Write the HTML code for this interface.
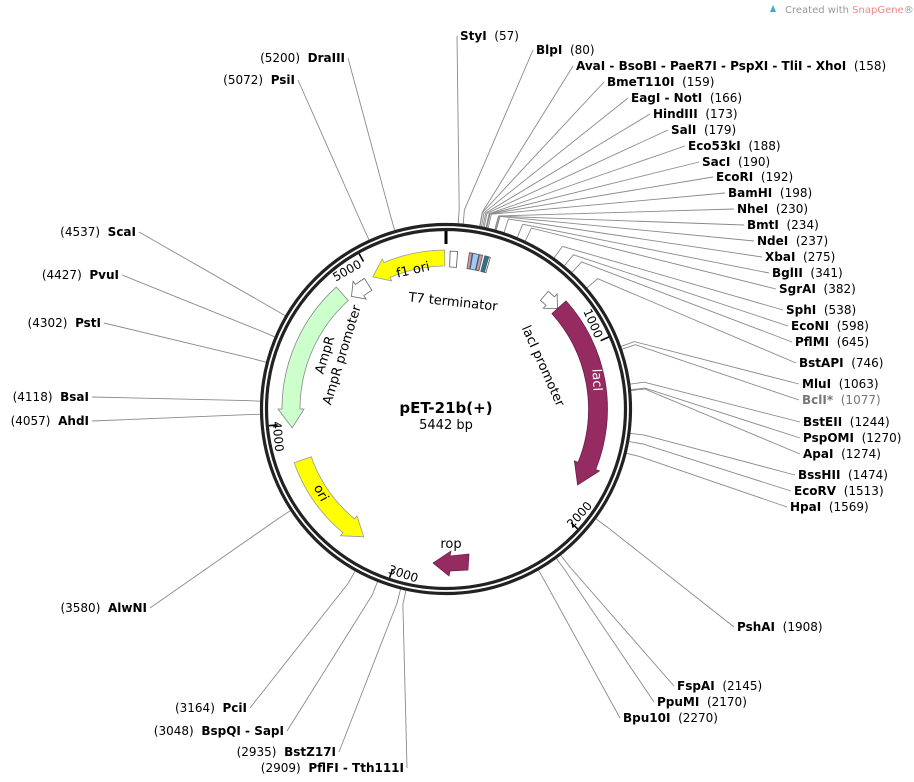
<!DOCTYPE html>
<html><head><meta charset="utf-8"><style>
body{margin:0;background:#fff;}
svg{display:block;font-family:"DejaVu Sans","Liberation Sans",sans-serif;}
</style></head><body>
<svg id="s" width="914" height="782" xmlns="http://www.w3.org/2000/svg">
<rect width="914" height="782" fill="#fff"/>
<text x="785" y="13" font-size="10" fill="#999">Created with <tspan fill="#e88">SnapGene</tspan>®</text>
<path d="M770 12 l3 -7 l3 7 z" fill="#4ac"/>
<g id="lines" stroke="#8a8a8a" stroke-width="0.9" fill="none"></g>
<circle cx="446" cy="409" r="184.5" fill="none" stroke="#222" stroke-width="3.2"/>
<circle cx="446" cy="409" r="179.5" fill="none" stroke="#222" stroke-width="3.2"/>
<g id="feat"></g>
<g id="lab" font-size="12"></g>
<text x="446" y="413" font-size="15" font-weight="bold" text-anchor="middle">pET-21b(+)</text>
<text x="446" y="429" font-size="13" text-anchor="middle">5442 bp</text>
<text x="451" y="548" font-size="13" text-anchor="middle">rop</text>
<polygon points="433,563 451,551 450,556 469,554 468,570 450,571 449,576" fill="#952b60" stroke="#6b1e45" stroke-width="0.7"/>
<text x="413" y="274" font-size="13" text-anchor="middle" transform="rotate(-13 413 270)">f1 ori</text>
<text x="453" y="306" font-size="13" text-anchor="middle" transform="rotate(6 453 302)">T7 terminator</text>
<text x="543" y="370" font-size="13" text-anchor="middle" transform="rotate(66 543 366)">lacI promoter</text>
<text x="597" y="384" font-size="13" fill="#fff" text-anchor="middle" transform="rotate(87 597 380)">lacI</text>
<text x="325" y="359" font-size="13" text-anchor="middle" transform="rotate(-73 325 355)">AmpR</text>
<text x="342" y="359" font-size="13" text-anchor="middle" transform="rotate(-73 342 355)">AmpR promoter</text>
<text x="321" y="497" font-size="13" text-anchor="middle" transform="rotate(62 321 493)">ori</text>
</svg>
<script>
var cx=446,cy=409,NS="http://www.w3.org/2000/svg";
function pt(a,r){var t=a*Math.PI/180;return [cx+r*Math.sin(t),cy-r*Math.cos(t)];}
function P(p){return p[0].toFixed(1)+" "+p[1].toFixed(1);}
function el(g,tag,at,txt){var e=document.createElementNS(NS,tag);for(var k in at)e.setAttribute(k,at[k]);if(txt!=null)e.textContent=txt;document.getElementById(g).appendChild(e);return e;}
function arrow(s,e,r,w,fill,stroke,head){
 var dir=e>s?1:-1,sw=dir>0?1:0,h=head||6;var ah=e-dir*h;
 var ro=r+w/2,ri=r-w/2;
 var d="M"+P(pt(s,ro))+" A"+ro+" "+ro+" 0 0 "+sw+" "+P(pt(ah,ro))+" L"+P(pt(ah,ro+4))+" L"+P(pt(e,r))+" L"+P(pt(ah,ri-4))+" L"+P(pt(ah,ri))+" A"+ri+" "+ri+" 0 0 "+(1-sw)+" "+P(pt(s,ri))+" Z";
 el("feat","path",{d:d,fill:fill,stroke:stroke,"stroke-width":0.8});
}
function box(s,e,r,w,fill){
 var ro=r+w/2,ri=r-w/2;
 var d="M"+P(pt(s,ro))+" A"+ro+" "+ro+" 0 0 1 "+P(pt(e,ro))+" L"+P(pt(e,ri))+" A"+ri+" "+ri+" 0 0 0 "+P(pt(s,ri))+" Z";
 el("feat","path",{d:d,fill:fill,stroke:"#555","stroke-width":0.8});
}
arrow(359.5,331,151,16,"#ffff00","#999",6);
arrow(328,320,147,14,"#fff","#666",4);
arrow(318,263,155,18,"#ccffcc","#888",7);
arrow(250.5,212.8,152,18,"#ffff00","#999",7);
arrow(41,48,150,12,"#fff","#666",4);
arrow(48,120,152,19,"#952b60","#6b1e45",8);
box(1.5,4.2,150,16,"#fff");
box(8.5,9.6,150,16,"#c9a");box(9.8,12,150,16,"#9cf");box(12.2,13.4,150,16,"#c9a");box(14.2,15.6,150,16,"#279");box(15.7,16.3,150,16,"#fff");
// ticks
el("feat","path",{d:"M"+P(pt(0,178))+" L"+P(pt(0,165)),stroke:"#000","stroke-width":3});
[1000,2000,3000,4000,5000].forEach(function(v){
 var a=v/5442*360;el("feat","path",{d:"M"+P(pt(a,178))+" L"+P(pt(a,169)),stroke:"#000","stroke-width":1.6});
 var flip=(a>90&&a<270),rot=flip?a-180:a,off=flip?1.2:-1.2,rr=flip?174:165;var p=pt(a+off,rr);
 el("feat","text",{x:p[0].toFixed(1),y:p[1].toFixed(1),"font-size":12,"text-anchor":flip?"start":"end",transform:"rotate("+rot.toFixed(1)+" "+p[0].toFixed(1)+" "+p[1].toFixed(1)+")"},String(v));
});
var R=[["StyI",57,460,40],["BlpI",80,536,54],["AvaI - BsoBI - PaeR7I - PspXI - TliI - XhoI",158,576,70],["BmeT110I",159,607,86],["EagI - NotI",166,631,102],["HindIII",173,653,118],["SalI",179,671,134],["Eco53kI",188,688,150],["SacI",190,702,166],["EcoRI",192,716,181],["BamHI",198,728,197],["NheI",230,737,213],["BmtI",234,747,229],["NdeI",237,757,245],["XbaI",275,765,261],["BglII",341,772,277],["SgrAI",382,779,293],["SphI",538,786,314],["EcoNI",598,791,330],["PflMI",645,795,346],["BstAPI",746,799,367],["MluI",1063,802,388],["BclI*",1077,802,404],["BstEII",1244,803,426],["PspOMI",1270,803,442],["ApaI",1274,803,458],["BssHII",1474,798,479],["EcoRV",1513,794,495],["HpaI",1569,790,511],["PshAI",1908,737,631],["FspAI",2145,677,690],["PpuMI",2170,657,706],["Bpu10I",2270,623,722]];
var L=[["DraIII",5200,345,62],["PsiI",5072,295,84],["ScaI",4537,136,236],["PvuI",4427,119,279],["PstI",4302,101,327],["BsaI",4118,89,401],["AhdI",4057,89,425],["AlwNI",3580,147,612],["PciI",3164,247,712],["BspQI - SapI",3048,284,735],["BstZ17I",2935,336,756],["PflFI - Tth111I",2909,404,772]];
function line(pos,ax,ay){var a=pos/5442*360;var p1=pt(a,186),p2=pt(a,200);
 el("lines","path",{d:"M"+P(p1)+" L"+P(p2)+" L"+ax+" "+ay});}
R.forEach(function(r){var g=r[0]==="BclI*";
 var t=el("lab","text",{x:r[2],y:r[3]});
 var a=document.createElementNS(NS,"tspan");a.setAttribute("font-weight","bold");if(g)a.setAttribute("fill","#777");a.textContent=r[0];t.appendChild(a);
 var b=document.createElementNS(NS,"tspan");if(g)b.setAttribute("fill","#777");b.textContent="  ("+r[1]+")";b.setAttribute("xml:space","preserve");t.appendChild(b);
 t.setAttribute("style","white-space:pre");
 line(r[1],r[2]-3,r[3]-4);});
L.forEach(function(r){
 var t=el("lab","text",{x:r[2],y:r[3],"text-anchor":"end",style:"white-space:pre"});
 var b=document.createElementNS(NS,"tspan");b.textContent="("+r[1]+")  ";t.appendChild(b);
 var a=document.createElementNS(NS,"tspan");a.setAttribute("font-weight","bold");a.textContent=r[0];t.appendChild(a);
 line(r[1],r[2]+3,r[3]-4);});
</script>
</body></html>
